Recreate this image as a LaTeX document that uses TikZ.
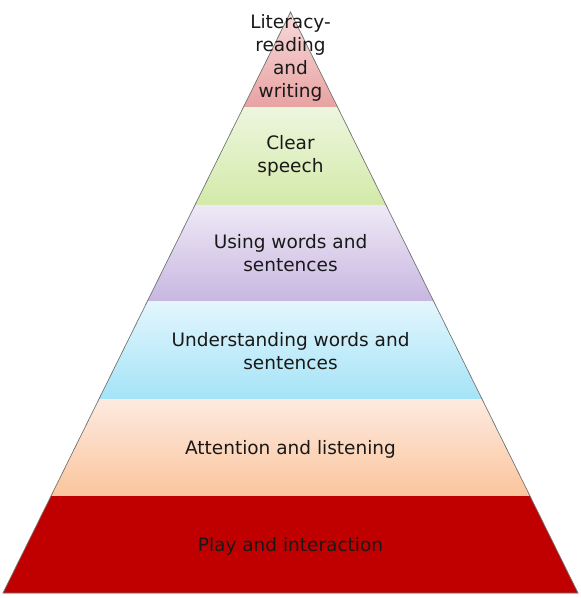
\documentclass[tikz,border=0pt]{standalone}
\usepackage{fontspec}
\setmainfont{DejaVu Sans}
\definecolor{pkt}{HTML}{F8DADA}
\definecolor{pkb}{HTML}{E8A2A2}
\definecolor{grt}{HTML}{EDF6DE}
\definecolor{grb}{HTML}{D3EAA9}
\definecolor{put}{HTML}{EEE9F6}
\definecolor{pub}{HTML}{C8B7E1}
\definecolor{blt}{HTML}{E3F6FD}
\definecolor{blb}{HTML}{A4E3F7}
\definecolor{ort}{HTML}{FDEAE0}
\definecolor{orb}{HTML}{FBC59C}
\definecolor{rdx}{HTML}{C00000}
\colorlet{edg}{black!55}
\tikzset{
    rim/.style={edg,line width=0.7pt},
    lbl/.style={align=center,inner sep=0pt,text=black!90,font=\fontsize{18.5}{23}\selectfont}
}

\begin{document}
\begin{tikzpicture}[x=1pt,y=-1pt]
        \useasboundingbox (0,0) rectangle (581,598);
        \coordinate (apex) at (290.5,12);
        \coordinate (bl) at (3,593);
        \coordinate (br) at (578,593);
        \begin{scope}
            \clip (apex) -- (bl) -- (br) -- cycle;
            \foreach \ya/\yb/\ct/\cb in {12/107/pkt/pkb,107/205/grt/grb,
                205/301/put/pub,301/399/blt/blb,399/496/ort/orb,496/593/rdx/rdx} {
                \shade [top color=\ct,bottom color=\cb] (0,\ya) rectangle (581,\yb);
                \draw [rim] (0,\yb) -- (581,\yb);
            }
        \end{scope}
        \draw [rim] (apex) -- (bl) -- (br) -- cycle;
        \node [lbl] (lit) at (290.5,58) {Literacy-\\reading\\and\\writing};
        \node [lbl] (spc) at (290.5,156) {Clear\\speech};
        \node [lbl] (use) at (290.5,253) {Using words and\\sentences};
        \node [lbl] (und) at (290.5,351) {Understanding words and\\sentences};
        \node [lbl] (att) at (290.5,449) {Attention and listening};
        \node [lbl] (ply) at (290.5,546) {Play and interaction};
    \end{tikzpicture}
\end{document}
